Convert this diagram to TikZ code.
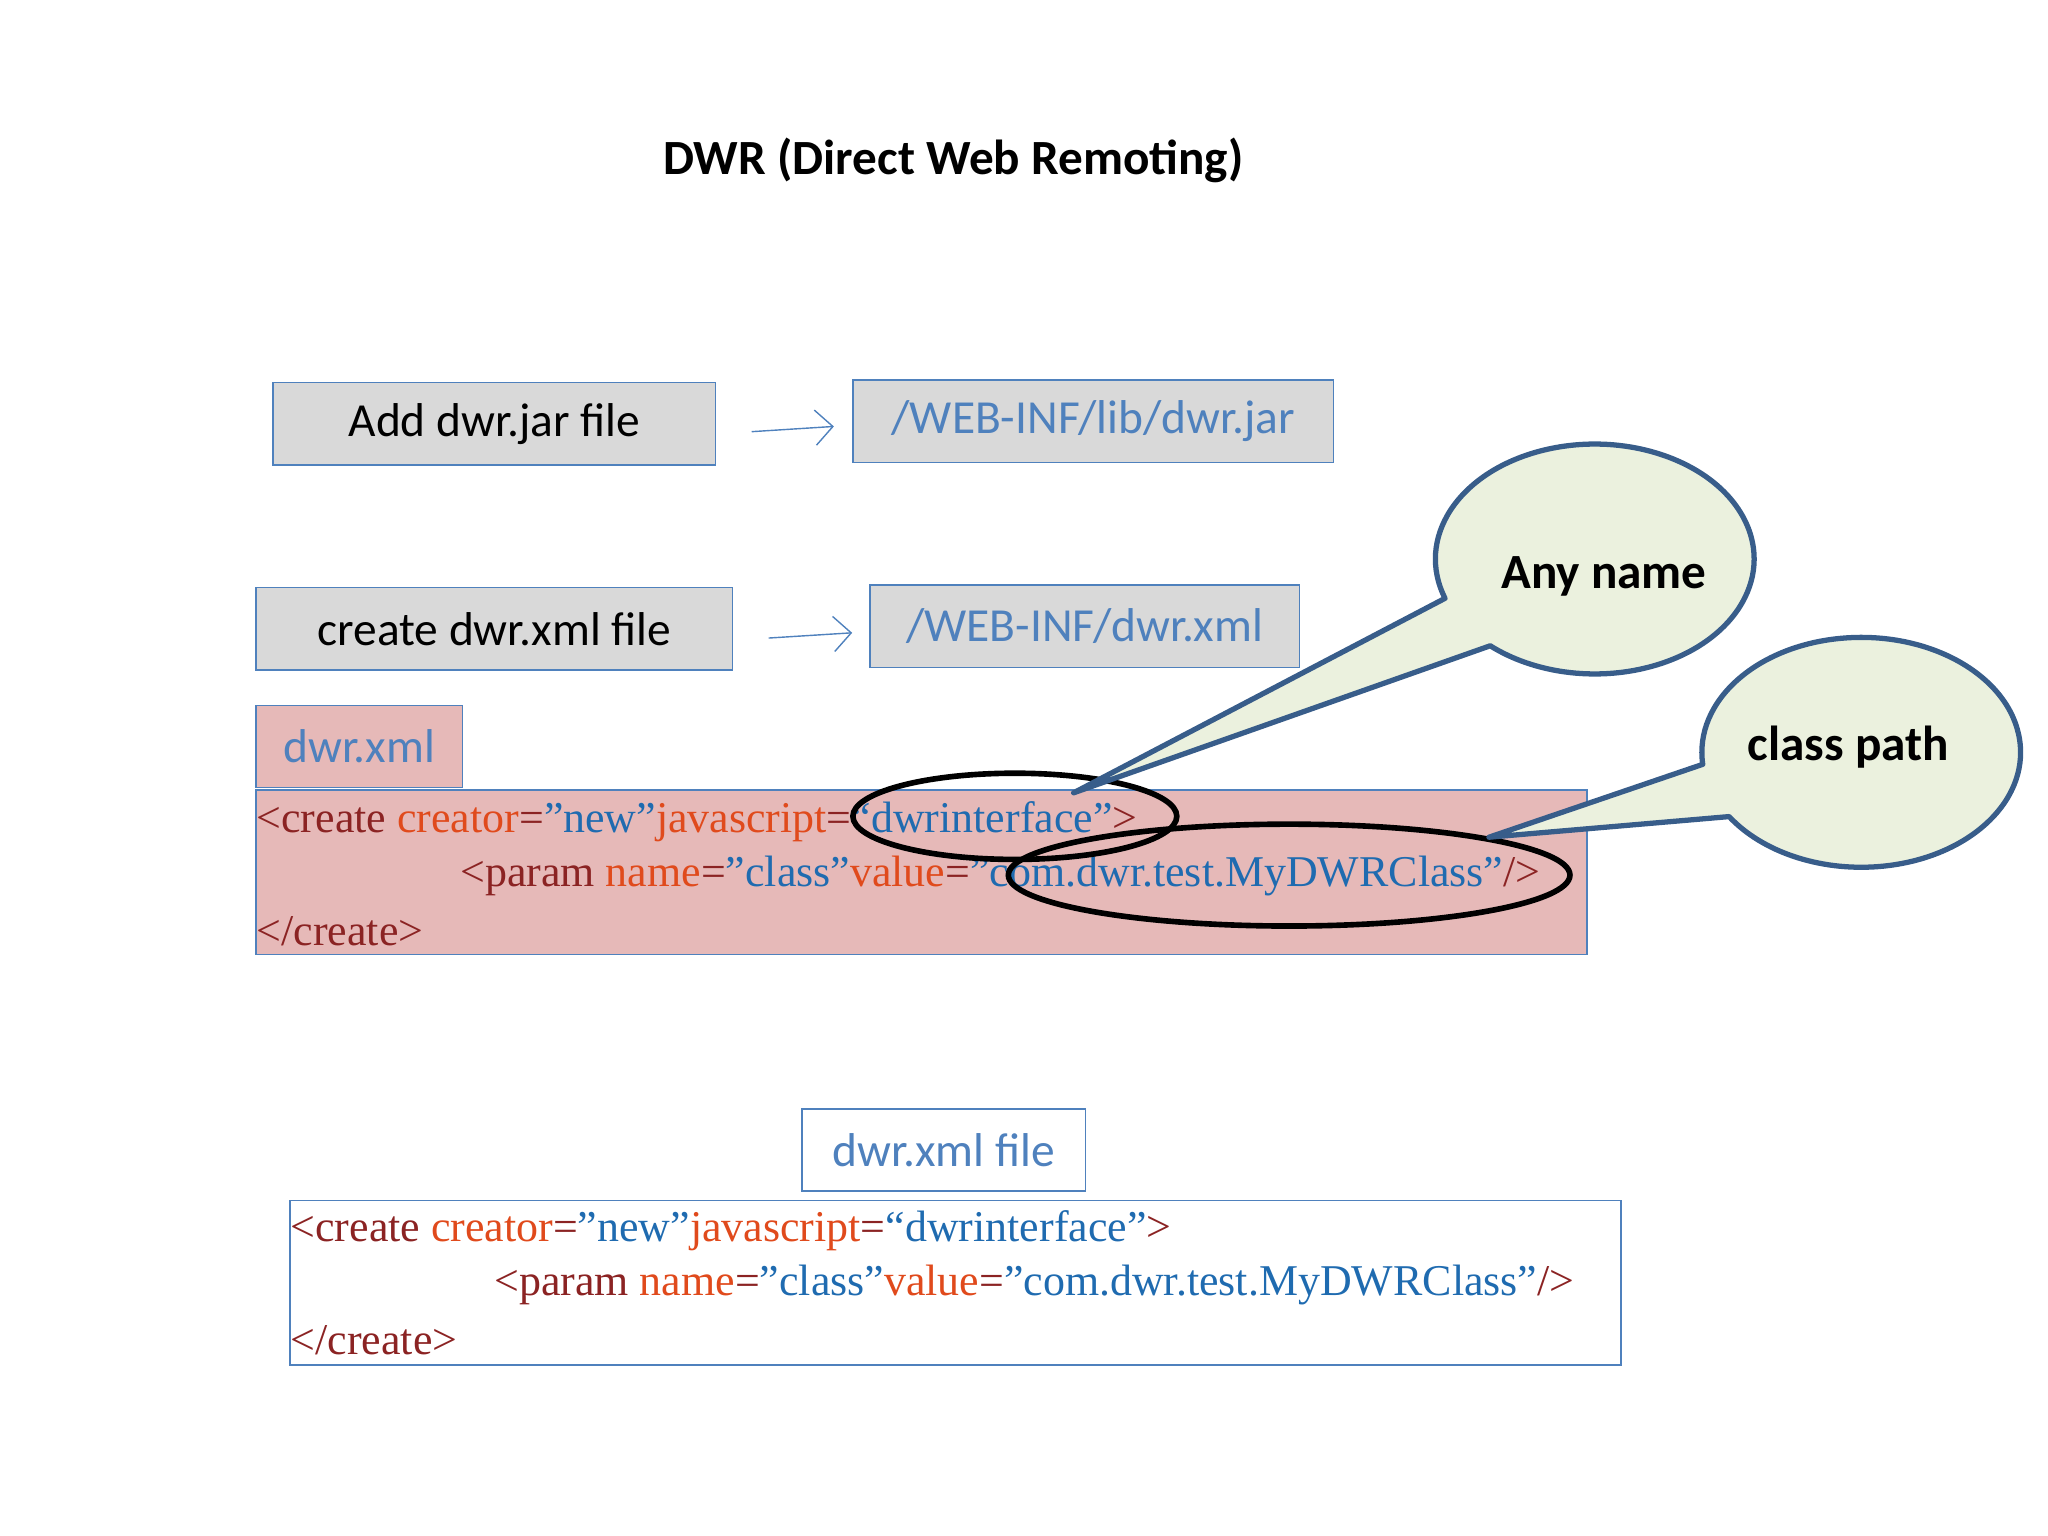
\documentclass[tikz,border=0pt]{standalone}
\usepackage{fontspec}
\setmainfont{Liberation Serif}
\newfontfamily\calib{Carlito}
\usetikzlibrary{arrows.meta}
\usetikzlibrary{calc}
\definecolor{boxgray}{HTML}{D9D9D9}
\definecolor{boxline}{HTML}{4F81BD}
\definecolor{txtblue}{HTML}{4F81BD}
\definecolor{pinkfill}{HTML}{E6B9B8}
\definecolor{calfill}{HTML}{EBF1DE}
\definecolor{calline}{HTML}{385D8A}
\definecolor{xmaroon}{HTML}{8B2323}
\definecolor{xred}{HTML}{E04A1C}
\definecolor{xblue}{HTML}{1F6BB0}
\newcommand{\xm}[1]{\textcolor{xmaroon}{#1}}
\newcommand{\xr}[1]{\textcolor{xred}{#1}}
\newcommand{\xb}[1]{\textcolor{xblue}{#1}}
\begin{document}
\begin{tikzpicture}[x=0.01306cm,y=-0.01306cm,
    stepbox/.style={draw=boxline, fill=boxgray, font=\calib\fontsize{13.5}{16}\selectfont, inner sep=0pt},
    tag/.style={draw=boxline, font=\calib\fontsize{13.5}{16}\selectfont, text=txtblue, inner sep=0pt},
    code/.style={anchor=west, font=\fontsize{12.5}{15}\selectfont, inner sep=0pt},
    arr/.style={-{Straight Barb[length=5pt]}, draw=boxline, thin},
    ring/.style={draw=black, line width=1.6pt},
    callout/.style={draw=calline, fill=calfill, line width=1.5pt, line join=round}]
\useasboundingbox (0,0) rectangle (1568,1176);

\node[font=\calib\bfseries\fontsize{14}{17}\selectfont] (title) at (730,123) {DWR (Direct Web Remoting)};

% steps
\node[stepbox, minimum width=339*0.01306cm, minimum height=63*0.01306cm] (jar) at (378.5,324.5) {Add dwr.jar file};
\node[stepbox, text=txtblue, minimum width=368*0.01306cm, minimum height=63*0.01306cm] (lib) at (837,322.5) {/WEB-INF/lib/dwr.jar};
\node[stepbox, minimum width=365*0.01306cm, minimum height=63*0.01306cm] (xml) at (378.5,481.5) {create dwr.xml file};
\node[stepbox, text=txtblue, minimum width=329*0.01306cm, minimum height=63*0.01306cm] (winf) at (830.5,479.5) {/WEB-INF/dwr.xml};
\draw[arr] ([xshift=27*0.01306cm,yshift=-6*0.01306cm]jar.east) -- ([xshift=-14*0.01306cm,yshift=-4*0.01306cm]lib.west);
\draw[arr] ([xshift=27*0.01306cm,yshift=-7*0.01306cm]xml.east) -- ([xshift=-13*0.01306cm,yshift=-5*0.01306cm]winf.west);

% pink code block
\node[tag, fill=pinkfill, minimum width=158*0.01306cm, minimum height=63*0.01306cm] (dx) at (275,571.5) {dwr.xml};
\draw[draw=boxline, fill=pinkfill] (196,605) rectangle (1215,731);
\node[code] (c1) at (196,629) {\xm{<create }\xr{creator}\xm{=}\xb{"new”}\xr{javascript}\xm{=}\xb{“dwrinterface"}\xm{>}};
\node[code] (c2) at (352,671) {\xm{<param }\xr{name}\xm{=}\xb{"class"}\xm{ }\xr{ value}\xm{=}\xb{"com.dwr.test.MyDWRClass"}\xm{/>}};
\node[code] (c3) at (196,713) {\xm{</create>}};
\draw[ring] (777,625) ellipse [x radius=124, y radius=33];
\draw[ring] (987,670) ellipse [x radius=215, y radius=39];

% callouts
\draw[callout] (822,607) -- ($(1221,428)+(160:122 and 88)$) arc[start angle=160, end angle=491, x radius=122, y radius=88] -- cycle;
\node[font=\calib\bfseries\fontsize{14}{17}\selectfont] (any) at (1228,441) {Any name};
\draw[callout] (1140,641) -- ($(1425,576)+(174:122 and 88)$) arc[start angle=174, end angle=506, x radius=122, y radius=88] -- cycle;
\node[font=\calib\bfseries\fontsize{14}{17}\selectfont] (cp) at (1415,572) {class path};

% plain code block
\node[tag, minimum width=217*0.01306cm, minimum height=63*0.01306cm] (df) at (722.5,880.5) {dwr.xml file};
\draw[draw=boxline] (222,919) rectangle (1241,1045);
\node[code] (d1) at (222,942) {\xm{<create }\xr{creator}\xm{=}\xb{"new”}\xr{javascript}\xm{=}\xb{“dwrinterface"}\xm{>}};
\node[code] (d2) at (378,984) {\xm{<param }\xr{name}\xm{=}\xb{"class"}\xm{ }\xr{ value}\xm{=}\xb{"com.dwr.test.MyDWRClass"}\xm{/>}};
\node[code] (d3) at (222,1026) {\xm{</create>}};
\end{tikzpicture}
\end{document}
